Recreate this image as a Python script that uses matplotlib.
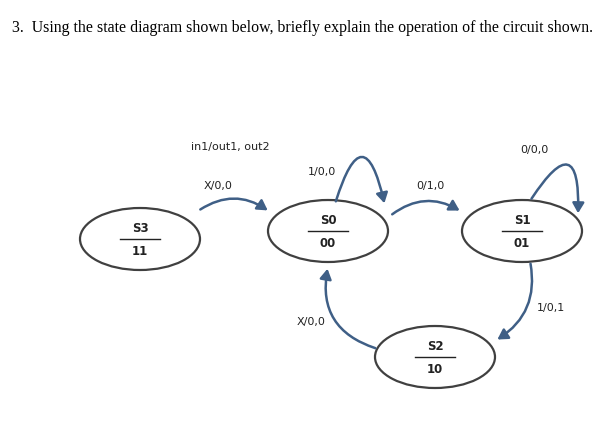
import matplotlib.pyplot as plt
from matplotlib.patches import Ellipse, FancyArrowPatch

# state name, code, centre (px)
states = ["S3", "S0", "S1", "S2"]
codes = ["11", "00", "01", "10"]
centres = [(140, 240), (328, 232), (522, 232), (435, 358)]

# transitions: start, end, curvature
trans = [((198, 212), (270, 213), -0.35),
         ((335, 205), (385, 207), -1.9),
         ((390, 217), (462, 213), -0.35),
         ((530, 202), (578, 217), -1.8),
         ((530, 262), (495, 342), -0.35),
         ((378, 350), (328, 267), -0.45)]
labels = ["in1/out1, out2", "X/0,0", "1/0,0", "0/1,0", "0/0,0", "1/0,1", "X/0,0"]
label_pos = [(230, 147), (218, 186), (322, 172), (430, 186), (534, 150), (551, 308), (311, 322)]

fig = plt.figure(figsize=(6.16, 4.31), dpi=100)
ax = fig.add_axes([0, 0, 1, 1])
ax.set_xlim(0, 616)
ax.set_ylim(431, 0)
ax.axis("off")

ax.text(12, 28, "3.  Using the state diagram shown below, briefly explain the operation of the circuit shown.",
        family="Liberation Serif", fontsize=11.4, va="center")

edge = "#404040"
blue = "#3F5F86"
for name, code, (cx, cy) in zip(states, codes, centres):
    ax.add_patch(Ellipse((cx, cy), 120, 62, fill=False, ec=edge, lw=1.6))
    ax.text(cx, cy - 11, name, ha="center", va="center", fontsize=8.5, weight="bold", color="#222222")
    ax.plot([cx - 20, cx + 20], [cy, cy], color="#222222", lw=1)
    ax.text(cx, cy + 12, code, ha="center", va="center", fontsize=8.5, weight="bold", color="#222222")

for (p0, p1, rad) in trans:
    ax.add_patch(FancyArrowPatch(p0, p1, connectionstyle=f"arc3,rad={rad}",
                                 arrowstyle="-|>,head_length=6,head_width=3.5",
                                 color=blue, lw=1.8))

for t, (x, y) in zip(labels, label_pos):
    ax.text(x, y, t, ha="center", va="center", fontsize=8, color="#222222")

fig.savefig("out.png", dpi=100)
